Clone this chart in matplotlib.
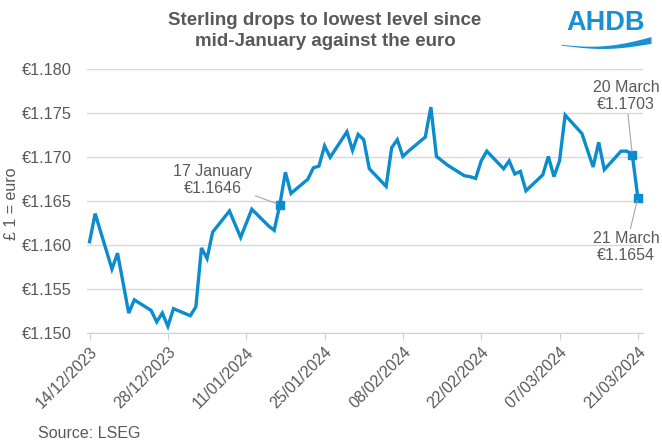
# Sterling vs euro line chart (AHDB style)
import numpy as np
import pandas as pd
import matplotlib
matplotlib.use('Agg')
import matplotlib.pyplot as plt

plt.rcParams['font.family'] = ['Liberation Sans', 'DejaVu Sans']

# ── data: GBP/EUR business days 14 Dec 2023 – 21 Mar 2024 ──
dates = pd.bdate_range('2023-12-14', '2024-03-21')
rate = [
    # Dec 2023
    1.1604, 1.1636, 1.1573, 1.1591, 1.1557, 1.1523, 1.1538, 1.1526, 1.1513, 1.1523,
    1.1508, 1.1528,
    # Jan 2024
    1.1520, 1.1530, 1.1597, 1.1585, 1.1615, 1.1639, 1.1624, 1.1609, 1.1625, 1.1641,
    1.1622, 1.1617, 1.1646, 1.1683, 1.1659, 1.1675, 1.1688, 1.1690, 1.1713, 1.1700,
    1.1729, 1.1708, 1.1726,
    # Feb 2024
    1.1720, 1.1687, 1.1667, 1.1711, 1.1720, 1.1701, 1.1707, 1.1723, 1.1757, 1.1701,
    1.1696, 1.1691, 1.1679, 1.1678, 1.1676, 1.1696, 1.1707, 1.1687, 1.1696, 1.1681,
    1.1684,
    # Mar 2024
    1.1662, 1.1680, 1.1701, 1.1678, 1.1696, 1.1748, 1.1727, 1.1708, 1.1689, 1.1717,
    1.1686, 1.1707, 1.1707, 1.1703, 1.1654,
]
tick_dates = pd.date_range('2023-12-14', '2024-03-21', freq='14D')
y_ticks = [1.150, 1.155, 1.160, 1.165, 1.170, 1.175, 1.180]

# highlighted points: (date, label)
highlights = [
    ('2024-01-17', '17 January\n€1.1646'),
    ('2024-03-20', '20 March\n€1.1703'),
    ('2024-03-21', '21 March\n€1.1654'),
]

s = pd.Series(rate, index=dates)
blue = '#0a8cce'
grey = '#595959'

fig = plt.figure(figsize=(6.62, 4.44), dpi=100)
ax = fig.add_axes([87 / 662, (444 - 333.3) / 444, (643 - 87) / 662, 264 / 444])

ax.plot(s.index, s.values, color=blue, linewidth=2.4, solid_joinstyle='miter')

x0 = pd.Timestamp('2023-12-14')
ax.set_xlim(x0 - pd.Timedelta(hours=11), pd.Timestamp('2024-03-21') + pd.Timedelta(hours=22))
ax.set_ylim(1.150, 1.180)

ax.set_yticks(y_ticks)
ax.set_yticklabels([f'€{v:.3f}' for v in y_ticks], fontsize=11.8, color=grey)
ax.set_xticks(tick_dates)
ax.set_xticklabels([d.strftime('%d/%m/%Y') for d in tick_dates], rotation=45,
                   ha='right', va='top', rotation_mode='anchor', fontsize=11.5, color=grey)
ax.tick_params(axis='y', length=0, pad=11)
ax.tick_params(axis='x', length=5, color='#d0d0d0', pad=3)
ax.grid(axis='y', color='#d9d9d9', linewidth=1)
ax.set_axisbelow(True)
for side in ['top', 'right', 'left']:
    ax.spines[side].set_visible(False)
ax.spines['bottom'].set_color('#d0d0d0')

ax.set_ylabel('£ 1 = euro', fontsize=11.5, color=grey)
ax.yaxis.set_label_coords((19 - 87) / 556, 0.49)

# markers + annotations
for d, lbl in highlights:
    d = pd.Timestamp(d)
    ax.plot([d], [s[d]], marker='s', markersize=6, color=blue, linestyle='none')

ann = dict(fontsize=11.5, color=grey, ha='center', va='center', linespacing=1.1,
           arrowprops=dict(arrowstyle='-', color='#a6a6a6', linewidth=0.8, shrinkA=0, shrinkB=2))
text_pos = [(213, 444 - 180), (626, 444 - 96), (626, 444 - 247)]
for (d, lbl), pos in zip(highlights, text_pos):
    ax.annotate(lbl, xy=(pd.Timestamp(d), s[d]), xytext=pos, textcoords='figure pixels', **ann)

# title
fig.text(0.491, 1 - 31 / 444, 'Sterling drops to lowest level since\nmid-January against the euro',
         ha='center', va='center', fontsize=13.5, fontweight='bold', color=grey, linespacing=1.3)

# AHDB logo
fig.text(606 / 662, 1 - 23 / 444, 'AHDB', ha='center', va='center', fontsize=19.5,
         fontweight='bold', color='#1a8fd2')
lax = fig.add_axes([561 / 662, 1 - 51 / 444, 90 / 662, 17 / 444])
wx = np.linspace(0, 1, 100)
lower = 0.35 - 0.25 * np.sin(np.pi * wx) + 0.1 * wx
upper = lower + 0.05 + 0.35 * wx ** 1.5
lax.fill_between(wx, lower, upper, color='#1a8fd2', linewidth=0)
lax.set_xlim(0, 1)
lax.set_ylim(0, 1)
lax.axis('off')

fig.text(38 / 662, 1 - 433 / 444, 'Source: LSEG', ha='left', va='center', fontsize=11.5, color=grey)

fig.savefig('out.png', dpi=100)
